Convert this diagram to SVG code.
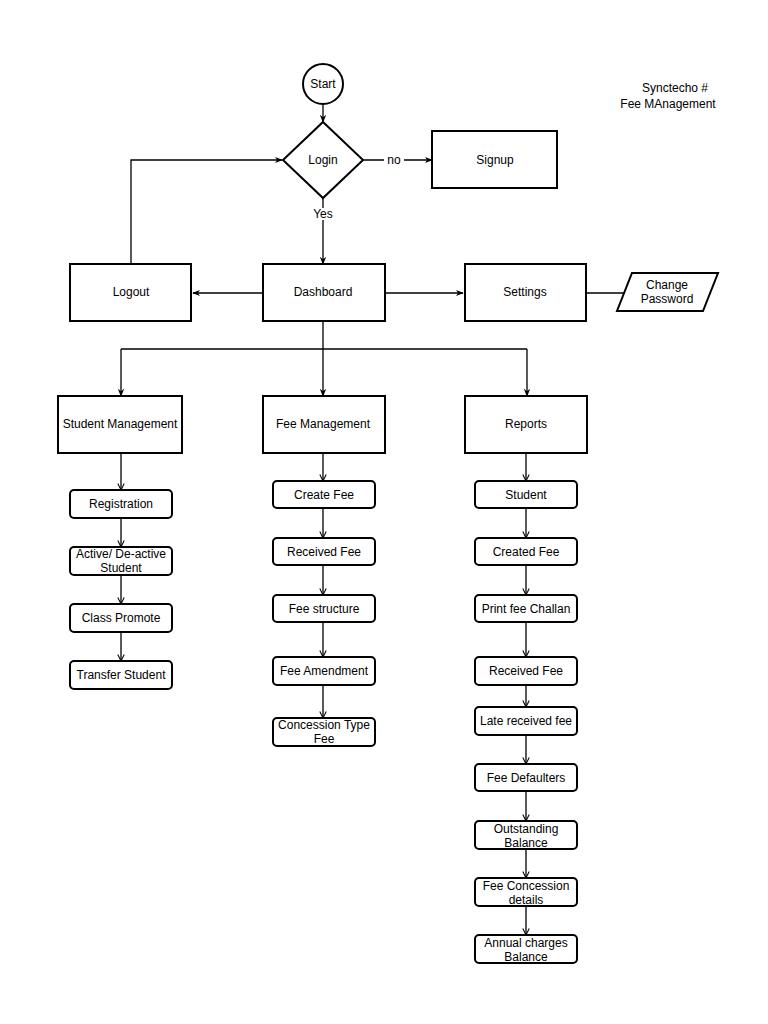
<svg xmlns="http://www.w3.org/2000/svg" width="768" height="1024" viewBox="0 0 768 1024">
<style>
.b{fill:#fff;stroke:#000;stroke-width:2}
.s{fill:#fff;stroke:#000;stroke-width:2}
text{font-family:"Liberation Sans",Arial,sans-serif;font-size:12px;text-anchor:middle;fill:#000}
.c path{fill:none;stroke:#000;stroke-width:1.3}
</style>
<defs>
<marker id="a" viewBox="0 0 10 10" refX="9" refY="5" markerWidth="8" markerHeight="8" orient="auto" markerUnits="userSpaceOnUse"><path d="M0,1L10,5L0,9L3,5Z" fill="#000"/></marker>
<marker id="v" viewBox="0 0 10 10" refX="9" refY="5" markerWidth="8" markerHeight="8" orient="auto" markerUnits="userSpaceOnUse"><path d="M1,1L9,5L1,9" fill="none" stroke="#000" stroke-width="1.3"/></marker>
</defs>
<rect width="768" height="1024" fill="#fff"/>
<text x="675" y="92">Synctecho #</text>
<text x="668" y="108">Fee MAnagement</text>
<g class="c">
<path d="M323,104V122" marker-end="url(#a)"/>
<path d="M363,160H432" marker-end="url(#a)"/>
<path d="M323,198V264" marker-end="url(#a)"/>
<path d="M263,293H193" marker-end="url(#a)"/>
<path d="M385,293H463" marker-end="url(#a)"/>
<path d="M586,293H625"/>
<path d="M131,264V160H282" marker-end="url(#a)"/>
<path d="M323,321V396" marker-end="url(#a)"/>
<path d="M121,349H527"/>
<path d="M121,349V396" marker-end="url(#a)"/>
<path d="M527,349V396" marker-end="url(#a)"/>
<path d="M121,453V490" marker-end="url(#v)"/>
<path d="M121,518V547" marker-end="url(#v)"/>
<path d="M121,575V604" marker-end="url(#v)"/>
<path d="M121,632V661" marker-end="url(#v)"/>
<path d="M323,453V481" marker-end="url(#v)"/>
<path d="M323,508V538" marker-end="url(#v)"/>
<path d="M323,565V595" marker-end="url(#v)"/>
<path d="M323,622V657" marker-end="url(#v)"/>
<path d="M323,685V718" marker-end="url(#v)"/>
<path d="M526,453V481" marker-end="url(#v)"/>
<path d="M526,508V538" marker-end="url(#v)"/>
<path d="M526,565V595" marker-end="url(#v)"/>
<path d="M526,622V657" marker-end="url(#v)"/>
<path d="M526,685V707" marker-end="url(#v)"/>
<path d="M526,735V764" marker-end="url(#v)"/>
<path d="M526,791V821" marker-end="url(#v)"/>
<path d="M526,849V878" marker-end="url(#v)"/>
<path d="M526,906V935" marker-end="url(#v)"/>
</g>
<rect x="384" y="154" width="20" height="12" fill="#fff"/><text x="394" y="164" font-size="11">no</text>
<rect x="312" y="208" width="22" height="12" fill="#fff"/><text x="323" y="218" font-size="11">Yes</text>
<g id="start"><circle class="b" cx="323" cy="84" r="20"/><text x="323" y="88">Start</text></g>
<g id="login"><path class="b" d="M323,122L363,160L323,198L283,160Z"/><text x="323" y="164">Login</text></g>
<g id="signup"><rect class="b" x="432" y="131" width="125" height="57"/><text x="495" y="164">Signup</text></g>
<g id="logout"><rect class="b" x="70" y="264" width="121" height="57"/><text x="131" y="296">Logout</text></g>
<g id="dashboard"><rect class="b" x="263" y="264" width="122" height="57"/><text x="323" y="296">Dashboard</text></g>
<g id="settings"><rect class="b" x="465" y="264" width="121" height="57"/><text x="525" y="296">Settings</text></g>
<g id="changepw"><path class="b" d="M632,273H718L703,311H617Z"/><text x="667" y="289">Change</text><text x="667" y="303">Password</text></g>
<g id="studentmgmt"><rect class="b" x="58" y="396" width="124" height="57"/><text x="120" y="428">Student Management</text></g>
<g id="feemgmt"><rect class="b" x="263" y="396" width="122" height="57"/><text x="323" y="428">Fee Management</text></g>
<g id="reports"><rect class="b" x="465" y="396" width="122" height="57"/><text x="526" y="428">Reports</text></g>
<g id="registration"><rect class="s" x="70" y="490" width="102" height="28" rx="4"/><text x="121" y="508">Registration</text></g>
<g id="active"><rect class="s" x="70" y="547" width="102" height="28" rx="4"/><text x="121" y="558">Active/ De-active</text><text x="121" y="572">Student</text></g>
<g id="promote"><rect class="s" x="70" y="604" width="102" height="28" rx="4"/><text x="121" y="622">Class Promote</text></g>
<g id="transfer"><rect class="s" x="70" y="661" width="102" height="28" rx="4"/><text x="121" y="679">Transfer Student</text></g>
<g id="createfee"><rect class="s" x="273" y="481" width="102" height="27" rx="4"/><text x="324" y="499">Create Fee</text></g>
<g id="receivedfee"><rect class="s" x="273" y="538" width="102" height="27" rx="4"/><text x="324" y="556">Received Fee</text></g>
<g id="feestructure"><rect class="s" x="273" y="595" width="102" height="27" rx="4"/><text x="324" y="613">Fee structure</text></g>
<g id="amendment"><rect class="s" x="273" y="657" width="102" height="28" rx="4"/><text x="324" y="675">Fee Amendment</text></g>
<g id="concessiontype"><rect class="s" x="273" y="718" width="102" height="28" rx="4"/><text x="324" y="729">Concession Type</text><text x="324" y="743">Fee</text></g>
<g id="r-student"><rect class="s" x="475" y="481" width="102" height="27" rx="4"/><text x="526" y="499">Student</text></g>
<g id="r-created"><rect class="s" x="475" y="538" width="102" height="27" rx="4"/><text x="526" y="556">Created Fee</text></g>
<g id="r-print"><rect class="s" x="475" y="595" width="102" height="27" rx="4"/><text x="526" y="613">Print fee Challan</text></g>
<g id="r-received"><rect class="s" x="475" y="657" width="102" height="28" rx="4"/><text x="526" y="675">Received Fee</text></g>
<g id="r-late"><rect class="s" x="475" y="707" width="102" height="28" rx="4"/><text x="526" y="725">Late received fee</text></g>
<g id="r-defaulters"><rect class="s" x="475" y="764" width="102" height="27" rx="4"/><text x="526" y="782">Fee Defaulters</text></g>
<g id="r-outstanding"><rect class="s" x="475" y="821" width="102" height="28" rx="4"/><text x="526" y="833">Outstanding</text><text x="526" y="847">Balance</text></g>
<g id="r-concession"><rect class="s" x="475" y="878" width="102" height="28" rx="4"/><text x="526" y="890">Fee Concession</text><text x="526" y="904">details</text></g>
<g id="r-annual"><rect class="s" x="475" y="935" width="102" height="28" rx="4"/><text x="526" y="947">Annual charges</text><text x="526" y="961">Balance</text></g>
</svg>
